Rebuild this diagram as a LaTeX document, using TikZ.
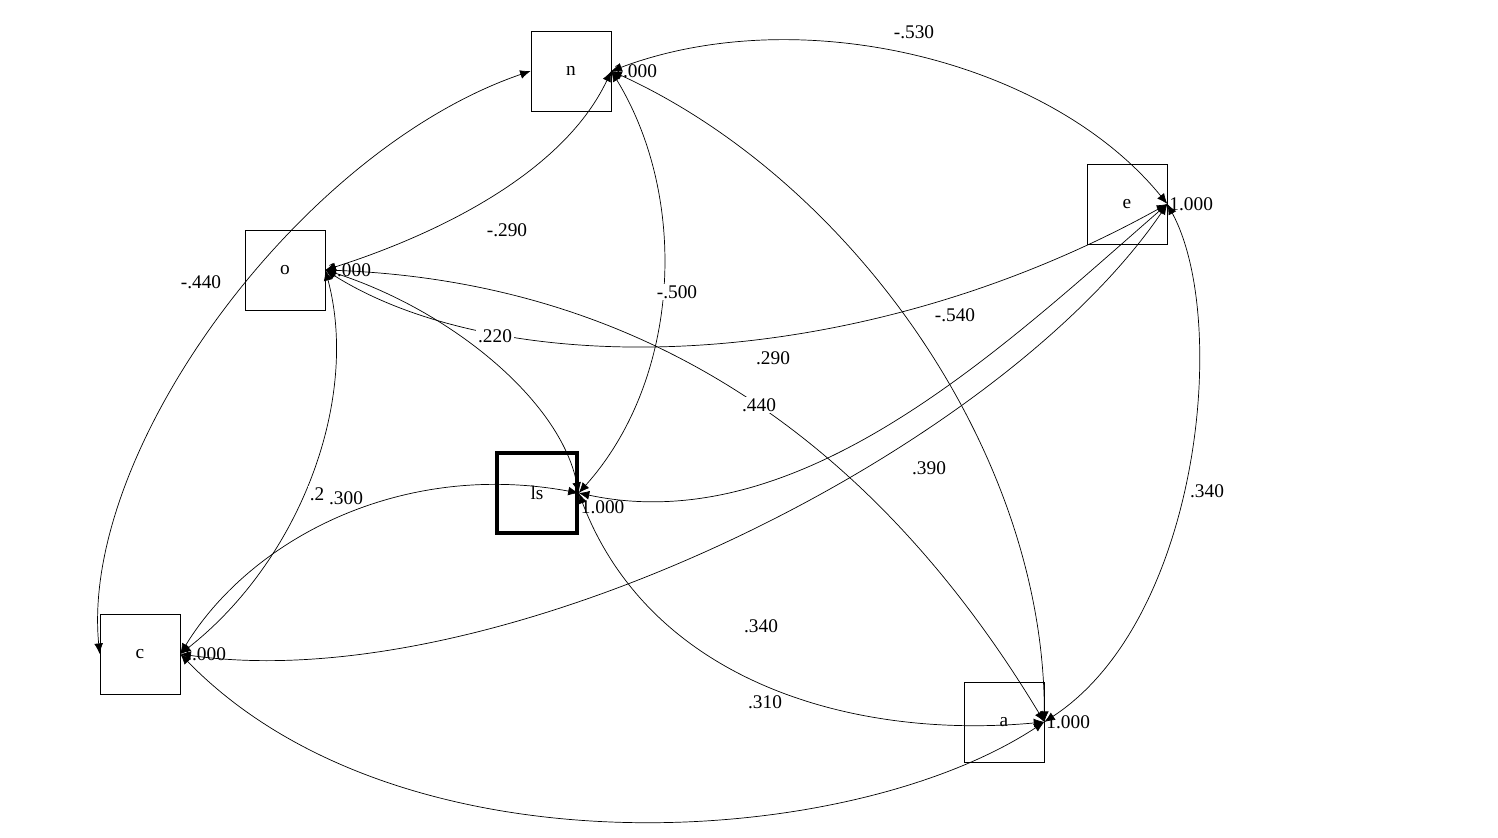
\documentclass[tikz,border=0pt]{standalone}
\usepackage{fontspec}
\setmainfont{Liberation Serif}
\usetikzlibrary{arrows.meta}
\begin{document}
\begin{tikzpicture}[x=0.02cm,y=-0.02cm,
  var/.style={draw,minimum size=1.6cm,inner sep=0pt,font=\fontsize{11}{12}\selectfont},
  cov/.style={{Latex[length=6pt,width=5pt]}-{Latex[length=6pt,width=5pt]}},
  lab/.style={font=\fontsize{11}{12}\selectfont,fill=white,inner sep=1pt},
  vl/.style={font=\fontsize{11}{12}\selectfont,anchor=west,inner sep=1pt}]
\useasboundingbox (0,0) rectangle (1498,838);
\node[var] (n) at (571,71) {n};
\node[var] (e) at (1127,204) {e};
\node[var] (o) at (285,270) {o};
\node[var,line width=2pt] (ls) at (537,493) {ls};
\node[var] (c) at (140,654) {c};
\node[var] (a) at (1004,722) {a};
\draw[cov] (n.east) .. controls (800,0) and (1050,60) .. (e.east);
\draw[cov] (n.east) .. controls (560,180) and (420,240) .. (o.east);
\draw[cov] (n.east) .. controls (690,200) and (680,380) .. (ls.east);
\draw[cov] (n.east) .. controls (850,180) and (1044,450) .. (a.east);
\draw[cov] (n.west) .. controls (300,150) and (80,450) .. (c.west);
\draw[cov] (o.east) .. controls (500,380) and (850,380) .. (e.east);
\draw[cov] (ls.east) .. controls (800,540) and (1000,350) .. (e.east);
\draw[cov] (c.east) .. controls (500,700) and (1000,450) .. (e.east);
\draw[cov] (e.east) .. controls (1230,320) and (1200,620) .. (a.east);
\draw[cov] (o.east) .. controls (450,310) and (560,400) .. (ls.east);
\draw[cov] (o.east) .. controls (600,280) and (850,400) .. (a.east);
\draw[cov] (o.east) .. controls (360,400) and (300,560) .. (c.east);
\draw[cov] (ls.east) .. controls (400,460) and (250,540) .. (c.east);
\draw[cov] (ls.east) .. controls (650,680) and (850,740) .. (a.east);
\draw[cov] (c.east) .. controls (400,880) and (850,850) .. (a.east);
\node[vl] (vn) at (n.east) {1.000};
\node[vl] (ve) at (e.east) {1.000};
\node[vl] (vo) at (o.east) {1.000};
\node[vl] (vls) at ([yshift=-8]ls.east) {1.000};
\node[vl] (vc) at (c.east) {1.000};
\node[vl] (va) at (a.east) {1.000};
\node[lab] (l1) at (914,32) {-.530};
\node[lab] (l2) at (507,230) {-.290};
\node[lab] (l3) at (677,292) {-.500};
\node[lab] (l4) at (201,282) {-.440};
\node[lab] (l5) at (317,494) {.2};
\node[lab] (l6) at (346,498) {.300};
\node[lab] (l7) at (495,336) {.220};
\node[lab] (l8) at (773,358) {.290};
\node[lab] (l9) at (955,315) {-.540};
\node[lab] (l10) at (759,405) {.440};
\node[lab] (l11) at (929,468) {.390};
\node[lab] (l12) at (1207,491) {.340};
\node[lab] (l13) at (761,626) {.340};
\node[lab] (l14) at (765,702) {.310};
\end{tikzpicture}
\end{document}
